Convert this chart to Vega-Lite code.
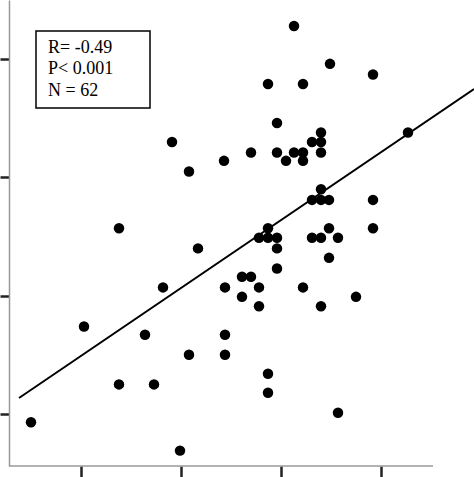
{
  "$schema": "https://vega.github.io/schema/vega-lite/v6.json",
  "width": 465,
  "height": 466,
  "padding": {"left": 9, "top": 0, "right": 0, "bottom": 11},
  "autosize": {"type": "none"},
  "background": "white",
  "config": {
    "view": {"stroke": null},
    "axis": {
      "labels": false,
      "title": null,
      "grid": false,
      "domainColor": "#999999",
      "domainWidth": 1.5,
      "tickColor": "#222222",
      "tickWidth": 2.5
    },
    "axisX": {"domain": false, "tickSize": 11},
    "axisY": {"tickSize": 9}
  },
  "datasets": {
    "points": [
      {"score": 41.3, "value": 42.8},
      {"score": 44.9, "value": 39.6},
      {"score": 49.2, "value": 38.7},
      {"score": 38.7, "value": 37.9},
      {"score": 42.2, "value": 37.9},
      {"score": 39.6, "value": 34.6},
      {"score": 52.7, "value": 33.8},
      {"score": 44.0, "value": 33.8},
      {"score": 29.1, "value": 33.0},
      {"score": 43.1, "value": 33.0},
      {"score": 44.0, "value": 33.0},
      {"score": 37.0, "value": 32.1},
      {"score": 39.6, "value": 32.1},
      {"score": 41.3, "value": 32.1},
      {"score": 42.2, "value": 32.1},
      {"score": 44.0, "value": 32.1},
      {"score": 34.3, "value": 31.4},
      {"score": 40.5, "value": 31.4},
      {"score": 42.2, "value": 31.4},
      {"score": 30.8, "value": 30.5},
      {"score": 44.0, "value": 29.0},
      {"score": 43.1, "value": 28.1},
      {"score": 44.0, "value": 28.1},
      {"score": 44.8, "value": 28.1},
      {"score": 49.2, "value": 28.1},
      {"score": 23.8, "value": 25.7},
      {"score": 38.7, "value": 25.7},
      {"score": 44.8, "value": 25.7},
      {"score": 49.2, "value": 25.7},
      {"score": 37.8, "value": 24.9},
      {"score": 38.7, "value": 24.9},
      {"score": 39.6, "value": 24.9},
      {"score": 43.1, "value": 24.9},
      {"score": 44.0, "value": 24.9},
      {"score": 45.7, "value": 24.9},
      {"score": 31.7, "value": 24.0},
      {"score": 39.6, "value": 24.0},
      {"score": 44.8, "value": 23.2},
      {"score": 39.6, "value": 22.3},
      {"score": 36.1, "value": 21.6},
      {"score": 37.0, "value": 21.6},
      {"score": 28.2, "value": 20.7},
      {"score": 34.4, "value": 20.7},
      {"score": 37.8, "value": 20.7},
      {"score": 42.2, "value": 20.7},
      {"score": 36.1, "value": 19.9},
      {"score": 47.5, "value": 19.9},
      {"score": 37.8, "value": 19.1},
      {"score": 44.0, "value": 19.1},
      {"score": 20.3, "value": 17.4},
      {"score": 26.4, "value": 16.7},
      {"score": 34.4, "value": 16.7},
      {"score": 30.8, "value": 15.0},
      {"score": 34.4, "value": 15.0},
      {"score": 38.7, "value": 13.4},
      {"score": 23.8, "value": 12.5},
      {"score": 27.3, "value": 12.5},
      {"score": 38.7, "value": 11.8},
      {"score": 15.0, "value": 9.3},
      {"score": 45.7, "value": 10.1},
      {"score": 29.9, "value": 6.9}
    ],
    "fit": [
      {"score": 13.8, "value": 11.35},
      {"score": 59.3, "value": 37.47}
    ]
  },
  "layer": [
    {
      "data": {"name": "points"},
      "mark": {"type": "circle", "color": "black", "opacity": 1, "size": 110},
      "encoding": {
        "x": {
          "field": "score",
          "type": "quantitative",
          "scale": {"domain": [12.8, 59.3], "nice": false, "zero": false},
          "axis": {"values": [20, 30, 40, 50]}
        },
        "y": {
          "field": "value",
          "type": "quantitative",
          "scale": {"domain": [5.6, 45.0], "nice": false, "zero": false},
          "axis": {"values": [10, 20, 30, 40]}
        }
      }
    },
    {
      "data": {"name": "fit"},
      "mark": {"type": "line", "color": "black", "strokeWidth": 2},
      "encoding": {
        "x": {"field": "score", "type": "quantitative"},
        "y": {"field": "value", "type": "quantitative"}
      }
    },
    {
      "data": {"values": [{}]},
      "mark": {"type": "rule", "color": "#999999", "strokeWidth": 1.5},
      "encoding": {
        "x": {"datum": 12.8, "type": "quantitative"},
        "x2": {"datum": 55.2},
        "y": {"datum": 5.6, "type": "quantitative"}
      }
    },
    {
      "data": {"values": [{}]},
      "mark": {"type": "rect", "fill": "white", "stroke": "black", "strokeWidth": 1.5},
      "encoding": {
        "x": {"datum": 15.5, "type": "quantitative"},
        "x2": {"datum": 26.9},
        "y": {"datum": 42.37, "type": "quantitative"},
        "y2": {"datum": 35.87}
      }
    },
    {
      "data": {"values": [{}]},
      "mark": {
        "type": "text",
        "text": ["R= -0.49", "P< 0.001", "N = 62"],
        "align": "left",
        "baseline": "alphabetic",
        "font": "Liberation Serif",
        "fontSize": 18,
        "lineHeight": 21.5,
        "color": "black"
      },
      "encoding": {
        "x": {"datum": 16.7, "type": "quantitative"},
        "y": {"datum": 40.52, "type": "quantitative"}
      }
    }
  ]
}
